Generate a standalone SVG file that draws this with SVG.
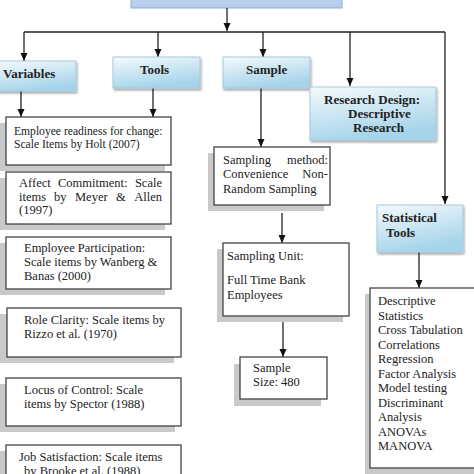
<svg xmlns="http://www.w3.org/2000/svg" width="474" height="474" viewBox="0 0 474 474">
<defs>
<linearGradient id="gb" x1="0" y1="0" x2="0.35" y2="1">
<stop offset="0" stop-color="#f4fafd"/>
<stop offset="1" stop-color="#a6d4ea"/>
</linearGradient>
<linearGradient id="gt" x1="0" y1="0" x2="0" y2="1">
<stop offset="0" stop-color="#cddff2"/>
<stop offset="1" stop-color="#b5cde9"/>
</linearGradient>
<filter id="sh" x="-10%" y="-10%" width="130%" height="140%">
<feGaussianBlur in="SourceAlpha" stdDeviation="1.2"/>
<feOffset dx="1" dy="2" result="o"/>
<feComponentTransfer><feFuncA type="linear" slope="0.35"/></feComponentTransfer>
<feMerge><feMergeNode/><feMergeNode in="SourceGraphic"/></feMerge>
</filter>
<marker id="ah" viewBox="0 0 8 8" refX="8" refY="4" markerWidth="8" markerHeight="8" markerUnits="userSpaceOnUse" orient="auto">
<path d="M0,0.5 L8,4 L0,7.5 Z" fill="#111"/>
</marker>
</defs>
<style>
.hb{fill:url(#gb);stroke:#a9c9da;stroke-width:1;filter:url(#sh)}
.wb{fill:#fff;stroke:#444;stroke-width:1.3}
.sd{fill:#c9c9c9}
.t{font-family:"Liberation Serif","Times New Roman",serif;font-size:12.5px;fill:#222}
.e{text-anchor:end}
.b{font-family:"Liberation Serif","Times New Roman",serif;font-size:13px;font-weight:bold;fill:#222}
.c{fill:none;stroke:#222;stroke-width:1.3}
</style>
<rect width="474" height="474" fill="#fff"/>

<g id="top">
<rect x="131" y="-30" width="211" height="38" fill="url(#gt)" stroke="#8fb0d6" stroke-width="1"/>
</g>

<g id="connectors">
<path class="c" d="M227,8 V31" marker-end="url(#ah)"/>
<path class="c" d="M24,32 H445"/>
<path class="c" d="M24,32 V61" marker-end="url(#ah)"/>
<path class="c" d="M158,32 V57" marker-end="url(#ah)"/>
<path class="c" d="M263,32 V57" marker-end="url(#ah)"/>
<path class="c" d="M350,32 V86" marker-end="url(#ah)"/>
<path class="c" d="M445,32 V204" marker-end="url(#ah)"/>
<path class="c" d="M21,91 V117" marker-end="url(#ah)"/>
<path class="c" d="M153,88 V117" marker-end="url(#ah)"/>
<path class="c" d="M261,88 V147" marker-end="url(#ah)"/>
<path class="c" d="M282,213 V243" marker-end="url(#ah)"/>
<path class="c" d="M283,316 V357" marker-end="url(#ah)"/>
<path class="c" d="M419,252 V288" marker-end="url(#ah)"/>
</g>

<g id="variables">
<rect class="hb" x="-4" y="61" width="80" height="30"/>
<text class="b" x="3" y="78">Variables</text>
</g>
<g id="tools">
<rect class="hb" x="113" y="57" width="87" height="31"/>
<text class="b" x="140" y="74">Tools</text>
</g>
<g id="sample">
<rect class="hb" x="223" y="57" width="87" height="31"/>
<text class="b" x="246" y="74">Sample</text>
</g>
<g id="research-design">
<rect class="hb" x="310" y="87" width="126" height="53"/>
<text class="b" x="324" y="104">Research Design:</text>
<text class="b" x="348" y="118">Descriptive</text>
<text class="b" x="353" y="132">Research</text>
</g>
<g id="statistical-tools">
<rect class="hb" x="377" y="205" width="86" height="47"/>
<text class="b" x="382" y="222">Statistical</text>
<text class="b" x="386" y="237">Tools</text>
</g>

<g id="readiness">
<rect class="sd" x="0" y="123" width="165" height="48"/>
<rect class="wb" x="6" y="117" width="165" height="48"/>
<text class="t" x="14" y="135" style="font-size:11.6px">Employee readiness for change:</text>
<text class="t" x="14" y="148" style="font-size:11.6px">Scale Items by Holt (2007)</text>
</g>
<g id="affect">
<rect class="sd" x="0" y="178" width="165" height="52"/>
<rect class="wb" x="6" y="172" width="165" height="52"/>
<text class="t" x="19" y="187">Affect</text>
<text class="t" x="58" y="187">Commitment:</text>
<text class="t e" x="162" y="187">Scale</text>
<text class="t" x="19" y="201">items</text>
<text class="t" x="54" y="201">by</text>
<text class="t" x="75" y="201">Meyer</text>
<text class="t" x="116" y="201">&amp;</text>
<text class="t e" x="162" y="201">Allen</text>
<text class="t" x="19" y="214">(1997)</text>
</g>
<g id="participation">
<rect class="sd" x="0" y="243" width="165" height="52"/>
<rect class="wb" x="6" y="237" width="165" height="52"/>
<text class="t" x="24" y="252">Employee Participation:</text>
<text class="t" x="24" y="266">Scale items by Wanberg &amp;</text>
<text class="t" x="24" y="280">Banas (2000)</text>
</g>
<g id="role-clarity">
<rect class="sd" x="0" y="314" width="174" height="49"/>
<rect class="wb" x="7" y="308" width="174" height="49"/>
<text class="t" x="24" y="324">Role Clarity: Scale items by</text>
<text class="t" x="24" y="338">Rizzo et al. (1970)</text>
</g>
<g id="locus">
<rect class="sd" x="0" y="384" width="175" height="48"/>
<rect class="wb" x="6" y="378" width="175" height="48"/>
<text class="t" x="24" y="394">Locus of Control: Scale</text>
<text class="t" x="24" y="408">items by Spector (1988)</text>
</g>
<g id="job-satisfaction">
<rect class="sd" x="0" y="451" width="175" height="40"/>
<rect class="wb" x="6" y="445" width="175" height="40"/>
<text class="t" x="19" y="461">Job Satisfaction: Scale items</text>
<text class="t" x="24" y="475">by Brooke et al. (1988)</text>
</g>

<g id="sampling-method">
<rect class="sd" x="208" y="153" width="116" height="58"/>
<rect class="wb" x="214" y="147" width="116" height="58"/>
<text class="t" x="223" y="164">Sampling</text>
<text class="t e" x="328" y="164">method:</text>
<text class="t" x="223" y="178">Convenience</text>
<text class="t e" x="328" y="178">Non-</text>
<text class="t" x="223" y="193">Random Sampling</text>
</g>
<g id="sampling-unit">
<rect class="sd" x="217" y="249" width="126" height="73"/>
<rect class="wb" x="223" y="243" width="126" height="73"/>
<text class="t" x="227" y="260">Sampling Unit:</text>
<text class="t" x="227" y="284">Full Time Bank</text>
<text class="t" x="227" y="299">Employees</text>
</g>
<g id="sample-size">
<rect class="sd" x="234" y="364" width="87" height="42"/>
<rect class="wb" x="240" y="357" width="87" height="42"/>
<text class="t" x="253" y="372">Sample</text>
<text class="t" x="253" y="386">Size: 480</text>
</g>
<g id="stat-list">
<rect class="sd" x="365" y="294" width="110" height="182"/>
<rect class="wb" x="370" y="288" width="110" height="180"/>
<text class="t" x="378" y="305">Descriptive</text>
<text class="t" x="378" y="319.5">Statistics</text>
<text class="t" x="378" y="334">Cross Tabulation</text>
<text class="t" x="378" y="348.5">Correlations</text>
<text class="t" x="378" y="363">Regression</text>
<text class="t" x="378" y="377.5">Factor Analysis</text>
<text class="t" x="378" y="392">Model testing</text>
<text class="t" x="378" y="406.5">Discriminant</text>
<text class="t" x="378" y="421">Analysis</text>
<text class="t" x="378" y="435.5">ANOVAs</text>
<text class="t" x="378" y="450">MANOVA</text>
</g>
</svg>
